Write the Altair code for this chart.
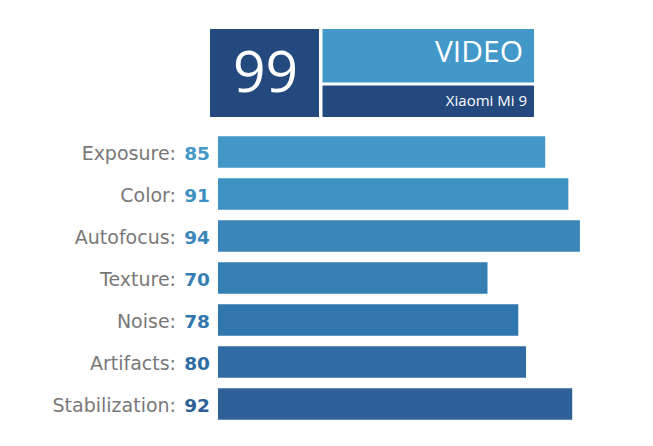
import altair as alt
import pandas as pd

categories = ["Exposure", "Color", "Autofocus", "Texture", "Noise", "Artifacts", "Stabilization"]
scores = [85, 91, 94, 70, 78, 80, 92]
bar_colors = ["#4398C8", "#3D91C3", "#3A86BA", "#367FB5", "#3276AE", "#2F6CA3", "#2D6197"]

overall_score = "99"
section_title = "VIDEO"
device_name = "Xiaomi Mi 9"

df = pd.DataFrame({"cat": categories, "score": scores,
                   "label": [c + ":" for c in categories]})

y_enc = alt.Y("cat:N", sort=categories, axis=None,
              scale=alt.Scale(paddingInner=0.25, paddingOuter=0.125))
color_enc = alt.Color("cat:N", scale=alt.Scale(domain=categories, range=bar_colors), legend=None)

base = alt.Chart(df)

bars = base.mark_bar(cornerRadius=0).encode(
    x=alt.X("score:Q", scale=alt.Scale(domain=[0, 100]), axis=None),
    y=y_enc,
    color=color_enc,
)

nums = base.mark_text(align="right", baseline="middle", dx=-8, dy=1.5, fontSize=18.5,
                      fontWeight="bold", font="DejaVu Sans").encode(
    x=alt.value(0), y=y_enc, text="score:Q", color=color_enc)

names = base.mark_text(align="right", baseline="middle", dx=-42, dy=1.5, fontSize=19,
                       font="DejaVu Sans", color="#787878").encode(
    x=alt.value(0), y=y_enc, text="label:N")

hdr = pd.DataFrame({"a": [0]})
hbase = alt.Chart(hdr)
box99 = hbase.mark_rect(color="#23497F").encode(
    x=alt.value(-8), x2=alt.value(101), y=alt.value(-102), y2=alt.value(-14))
boxvid = hbase.mark_rect(color="#4398CA").encode(
    x=alt.value(104.5), x2=alt.value(316), y=alt.value(-102), y2=alt.value(-48.5))
boxdev = hbase.mark_rect(color="#23497F").encode(
    x=alt.value(104.5), x2=alt.value(316), y=alt.value(-45.5), y2=alt.value(-14))
t99 = hbase.mark_text(text=overall_score, font="Open Sans", fontSize=57, color="white",
                      align="center", baseline="alphabetic").encode(
    x=alt.value(47.5), y=alt.value(-39))
tvid = hbase.mark_text(text=section_title, font="Open Sans", fontSize=30, color="white",
                       align="right", baseline="alphabetic").encode(
    x=alt.value(305), y=alt.value(-69))
tdev = hbase.mark_text(text=device_name, font="Open Sans", fontSize=15, color="white",
                       align="right", baseline="alphabetic").encode(
    x=alt.value(309), y=alt.value(-25))

chart = alt.layer(box99, boxvid, boxdev, t99, tvid, tdev, bars, nums, names).properties(
    width=385, height=294,
    padding={"left": 210, "top": 123, "right": 40, "bottom": 10},
    autosize=alt.AutoSizeParams(type="none"),
    background="white",
).configure_view(stroke=None)

chart.save("out.html", embed_options={"renderer": "svg", "actions": False})
